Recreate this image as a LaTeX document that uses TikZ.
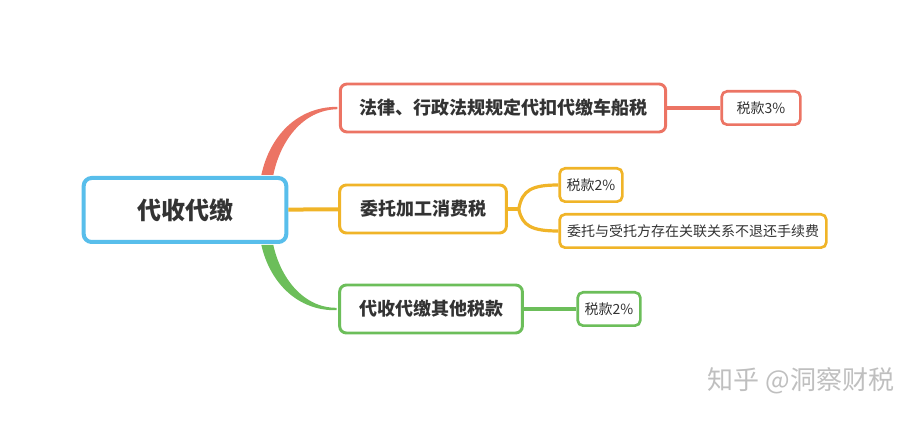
\documentclass[tikz,border=0pt]{standalone}
\usepackage{fontspec}
\setmainfont{Noto Sans CJK SC}
\usetikzlibrary{calc}
\definecolor{rootblue}{RGB}{88,190,235}
\definecolor{lawred}{RGB}{236,116,100}
\definecolor{workyellow}{RGB}{240,180,40}
\definecolor{othergreen}{RGB}{108,190,90}
\definecolor{textgray}{RGB}{51,51,51}
\tikzstyle{rootbox} = [rectangle, draw=rootblue, line width=3pt, rounded corners=6pt, fill=white,
text=textgray, minimum width=152pt, minimum height=48pt, inner sep=0pt, font=\bfseries\fontsize{18}{20}\selectfont]
\tikzstyle{mainbox} = [rectangle, line width=2.2pt, rounded corners=5pt, fill=white,
text=textgray, minimum height=36pt, inner sep=0pt, font=\bfseries\fontsize{13.5}{15}\selectfont]
\tikzstyle{leafbox} = [rectangle, line width=2pt, rounded corners=4pt, fill=white,
text=textgray, minimum height=25pt, inner sep=0pt, font=\fontsize{10.5}{12}\selectfont]
\tikzstyle{branch} = [line width=2.4pt]

\begin{document}
\begin{tikzpicture}[x=0.75pt, y=-0.75pt]
				\useasboundingbox (0,0) rectangle (923,423);
				% Place nodes
				\node (root) [rootbox] at (185,210) {代收代缴};
				\node (lawtax) [mainbox, draw=lawred, minimum width=244pt] at (503,108) {法律、行政法规规定代扣代缴车船税};
				\node (worktax) [mainbox, draw=workyellow, minimum width=125pt] at (423,209) {委托加工消费税};
				\node (othertax) [mainbox, draw=othergreen, minimum width=137pt] at (431,309) {代收代缴其他税款};
				\node (lawrate) [leafbox, draw=lawred, minimum width=59pt] at (761,108) {税款3\%};
				\node (workrate) [leafbox, draw=workyellow, minimum width=47pt] at (591,185) {税款2\%};
				\node (workfee) [leafbox, draw=workyellow, minimum width=200pt] at (693,231) {委托与受托方存在关联关系不退还手续费};
				\node (otherrate) [leafbox, draw=othergreen, minimum width=47pt] at (609,309) {税款2\%};
				
				% Connectors
				\fill[lawred] ($(root.north east)+(-27,-1)$) .. controls (270,135) and (298,106.8) .. ($(lawtax.west)+(-1.5,-1.2)$)
					-- ($(lawtax.west)+(-1.5,1.2)$) .. controls (302,110) and (280,142) .. ($(root.north east)+(-15,-1)$) -- cycle;
				\fill[othergreen] ($(root.south east)+(-27,1)$) .. controls (270,283) and (298,311.2) .. ($(othertax.west)+(-1.5,1.2)$)
					-- ($(othertax.west)+(-1.5,-1.2)$) .. controls (302,308) and (280,276) .. ($(root.south east)+(-15,1)$) -- cycle;
				\draw[branch, workyellow, line width=3pt] (root) -- (worktax);
				\draw[branch, lawred] (lawtax) -- (lawrate);
				\draw[branch, othergreen] (othertax) -- (otherrate);
				\draw[branch, workyellow] (worktax.east) -- ++(11,0) coordinate (fork);
				\draw[branch, workyellow] (fork) .. controls (522,190) and (532,185) .. (workrate.west);
				\draw[branch, workyellow] (fork) .. controls (522,226) and (532,231) .. (workfee.west);
				
				% Watermark
				\node (mark) [text=black!25, font=\fontsize{19.5}{21}\selectfont] at (801,381) {知乎 @洞察财税};
			\end{tikzpicture}
\end{document}
